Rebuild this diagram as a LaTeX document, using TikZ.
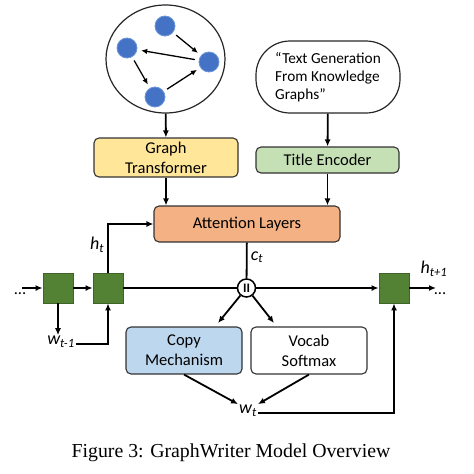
\documentclass[tikz,border=0pt]{standalone}
\usepackage{fontspec}
\setmainfont{Carlito}
\newfontfamily\capfont{Liberation Serif}
\usetikzlibrary{shapes.geometric,arrows.meta}
\definecolor{gtyellow}{HTML}{FFE699}
\definecolor{tegreen}{HTML}{C5E0B4}
\definecolor{attorange}{HTML}{F4B183}
\definecolor{cpblue}{HTML}{BDD7EE}
\definecolor{cellgreen}{HTML}{548235}
\definecolor{celledge}{HTML}{3E6428}
\definecolor{vblue}{HTML}{4472C4}
\definecolor{vedge}{HTML}{6A93DA}
\begin{document}
\begin{tikzpicture}[x=1pt,y=-1pt,
        txt/.style={font=\fontsize{16.5}{20}\selectfont},
        box/.style={draw=black!80,line width=1.1pt,rounded corners=5pt,align=center,txt,inner sep=0pt},
        cell/.style={draw=celledge,fill=cellgreen,line width=0.8pt,minimum size=30pt,inner sep=0pt},
        vert/.style={circle,draw=vedge,fill=vblue,line width=0.8pt,minimum size=20pt,inner sep=0pt},
        lbl/.style={font=\fontsize{18}{20}\selectfont\itshape,inner sep=1pt},
        arr/.style={-{Latex[length=7pt,width=6pt]},line width=1.8pt},
        ln/.style={line width=1.8pt},
        edge/.style={-{Latex[length=6pt,width=5.5pt]},line width=1.3pt,shorten >=4pt,shorten <=4pt}]
        \useasboundingbox (0,0) rectangle (474,474);

        \node[ellipse,draw=black!85,line width=1.2pt,minimum width=119pt,minimum height=108pt](kg)at(165.5,59){};
        \node[vert](v1)at(165,26){};
        \node[vert](v2)at(127,48){};
        \node[vert](v3)at(209,62){};
        \node[vert](v4)at(155,97){};
        \draw[edge](v1)--(v3);
        \draw[edge](v3)--(v2);
        \draw[edge](v2)--(v4);
        \draw[edge](v4)--(v3);

        \node[draw=black!85,line width=1.2pt,rounded corners=34pt,minimum width=144pt,minimum height=72pt,font=\fontsize{15.3}{18}\selectfont,align=left](title)at(328,77){``Text Generation\\From Knowledge\\Graphs''};

        \node[box,fill=gtyellow,minimum width=144pt,minimum height=39pt](gt)at(166,157.5){Graph\\Transformer};
        \node[box,fill=tegreen,minimum width=143pt,minimum height=26pt](te)at(327.5,160){Title Encoder};
        \node[box,fill=attorange,minimum width=186pt,minimum height=36pt](attn)at(247,224){Attention Layers};

        \draw[arr](kg)--(gt);
        \draw[arr](title)--(te);
        \draw[arr](gt.south)--(gt.south|-attn.north);
        \draw[arr](te.south)--(te.south|-attn.north);

        \node[cell](s1)at(58,288){};
        \node[cell](s2)at(108,288){};
        \node[cell](s3)at(394,288){};
        \node[circle,draw=black,fill=white,line width=1.5pt,minimum size=18pt,inner sep=0pt,font=\fontsize{13}{13}\selectfont\bfseries](cat)at(246.5,288){II};

        \node[txt](ldots)at(20,294){...};
        \node[txt](rdots)at(440,294){...};
        \coordinate(lin)at(22,288);
        \coordinate(rout)at(436,288);

        \draw[arr](lin)--(s1);
        \draw[arr](s1)--(s2);
        \draw[ln](s2)--(cat);
        \draw[arr](cat)--(s3);
        \draw[arr](s3)--(rout);
        \draw[ln](attn)--(cat);
        \draw[arr](s2.north)|-(attn.west);

        \node[lbl](ht)at(97,245){h\textsubscript{t}};
        \node[lbl](ct)at(257,257){c\textsubscript{t}};
        \node[lbl](ht1)at(434,269){h\textsubscript{t+1}};
        \node[lbl](wtm)at(61,342){w\textsubscript{t-1}};
        \node[lbl](wt)at(248,411){w\textsubscript{t}};

        \draw[arr](s1.south)--(s1.south|-wtm.north);
        \draw[arr]([yshift=-2pt]wtm.east)-|(s2.south);

        \node[box,fill=cpblue,minimum width=116pt,minimum height=47pt](copy)at(184,350.5){Copy\\Mechanism};
        \node[box,fill=white,minimum width=116pt,minimum height=47pt](vocab)at(309,350.5){Vocab\\Softmax};

        \coordinate(cpin)at(218,323);
        \coordinate(vcin)at(274,323);
        \draw[arr](cat)--(cpin);
        \draw[arr](cat)--(vcin);
        \draw[arr](copy.south)--(wt.north west);
        \draw[arr](vocab.south)--(wt.north east);
        \draw[arr]([yshift=-2pt]wt.east)-|(s3.south);

        \node[font=\capfont\fontsize{19.8}{22}\selectfont](cap)at(231,453){Figure 3: GraphWriter Model Overview};
\end{tikzpicture}
\end{document}
